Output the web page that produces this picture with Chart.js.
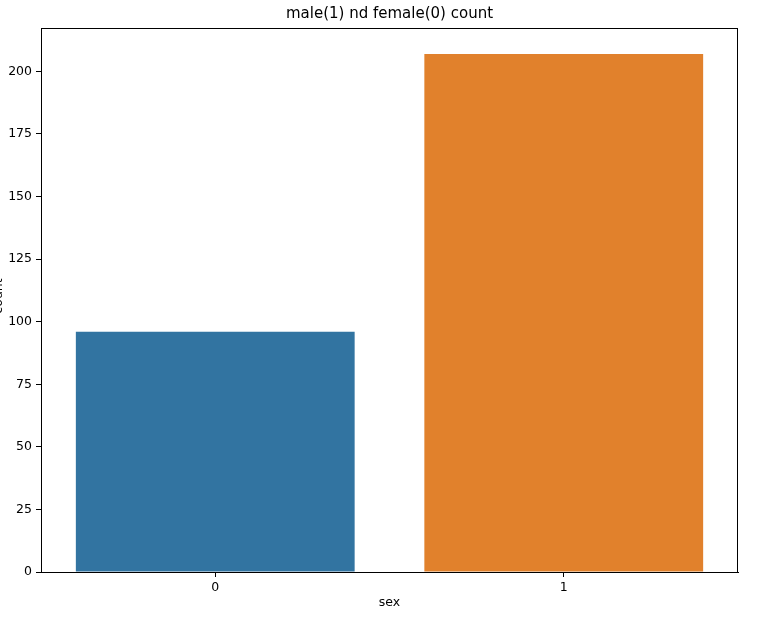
<!DOCTYPE html>
<html>
<head>
<meta charset="utf-8">
<script src="https://cdn.jsdelivr.net/npm/chart.js@4.4.0/dist/chart.umd.min.js"></script>
<style>
html,body{margin:0;padding:0;background:#fff;}
#wrap{width:780px;height:623px;position:relative;}
</style>
</head>
<body>
<div id="wrap"><canvas id="c" width="780" height="623"></canvas></div>
<script>
const categories = ['0', '1'];
const counts = [96, 207];
const barColors = ['#3274a1', '#e1812c'];
const yTicks = [0, 25, 50, 75, 100, 125, 150, 175, 200];
const titleText = 'male(1) nd female(0) count';
const xLabel = 'sex';
const yLabel = 'count';

const FONT = 'DejaVu Sans';

const framePlugin = {
  id: 'frame',
  afterDraw(chart) {
    const {ctx, chartArea: a} = chart;
    ctx.save();
    ctx.strokeStyle = '#000';
    ctx.lineWidth = 1;
    ctx.strokeRect(Math.round(a.left) + 0.5, Math.round(a.top) + 0.5,
      Math.round(a.right - a.left) - 1, Math.round(a.bottom - a.top));
    ctx.fillStyle = '#000';
    ctx.font = '15px "' + FONT + '"';
    ctx.textAlign = 'center';
    ctx.textBaseline = 'middle';
    ctx.fillText(titleText, (a.left + a.right) / 2, 14);
    ctx.font = '12.5px "' + FONT + '"';
    ctx.fillText(xLabel, (a.left + a.right) / 2, 603);
    ctx.translate(1.5, 296);
    ctx.rotate(-Math.PI / 2);
    ctx.textBaseline = 'alphabetic';
    ctx.fillText(yLabel, 0, 0);
    ctx.restore();
  }
};

new Chart(document.getElementById('c'), {
  type: 'bar',
  data: {
    labels: categories,
    datasets: [{
      data: counts,
      backgroundColor: barColors,
      borderWidth: 0,
      barPercentage: 0.8,
      categoryPercentage: 1.0
    }]
  },
  options: {
    responsive: false,
    animation: false,
    devicePixelRatio: 1,
    layout: {padding: {left: 0, right: 42, top: 28, bottom: 0}},
    plugins: {legend: {display: false}, tooltip: {enabled: false}},
    scales: {
      x: {
        grid: {display: true, offset: false, drawOnChartArea: false, drawTicks: true, tickLength: 5, color: '#000'},
        border: {display: true, color: '#000'},
        ticks: {color: '#000', font: {family: FONT, size: 12.5}, padding: 3},
        afterFit(scale) { scale.height = 51; }
      },
      y: {
        min: 0,
        max: 217.35,
        afterBuildTicks(scale) { scale.ticks = yTicks.map(v => ({value: v})); },
        grid: {display: true, drawOnChartArea: false, drawTicks: true, tickLength: 5, color: '#000'},
        border: {display: true, color: '#000'},
        ticks: {color: '#000', font: {family: FONT, size: 12.5}, padding: 4},
        afterFit(scale) { scale.width = 41; }
      }
    }
  },
  plugins: [framePlugin]
});
</script>
</body>
</html>
